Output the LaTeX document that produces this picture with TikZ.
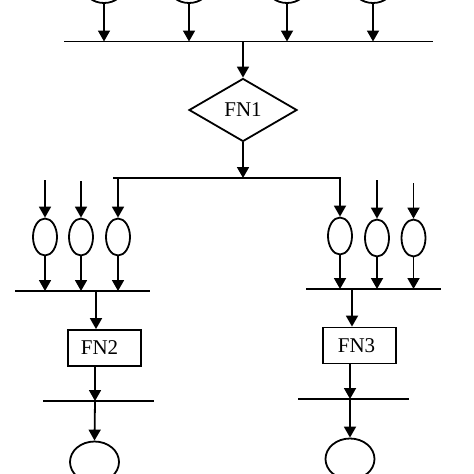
\documentclass[tikz,border=0pt]{standalone}
\usepackage{fontspec}
\setmainfont{Liberation Serif}
\usetikzlibrary{shapes.geometric,arrows.meta}
\begin{document}
\begin{tikzpicture}[x=1pt,y=-1pt,
  line width=1.8pt,
  arr/.style={-{Triangle[width=12pt,length=11pt]}},
  oval/.style={draw,ellipse,minimum width=24pt,minimum height=37pt,inner sep=0pt},
  bigoval/.style={draw,ellipse,minimum width=49pt,minimum height=41pt,inner sep=0pt},
  topoval/.style={draw,ellipse,minimum width=40pt,minimum height=32pt,inner sep=0pt},
  fnbox/.style={draw,rectangle,minimum width=73pt,minimum height=36pt,inner sep=0pt,font=\fontsize{21}{24}\selectfont},
  dia/.style={draw,diamond,minimum width=108pt,minimum height=63pt,inner sep=0pt,font=\fontsize{21}{24}\selectfont}]
\useasboundingbox (0,0) rectangle (474,474);
\clip (0,0) rectangle (474,474);
% top ovals
\node[topoval] (t1) at (104,-13) {};
\node[topoval] (t2) at (189,-13) {};
\node[topoval] (t3) at (287,-13) {};
\node[topoval] (t4) at (373,-13) {};
\coordinate (tbL) at (64,41.5);
\coordinate (tbR) at (433,41.5);
\draw (tbL) -- (tbR);
\foreach \i in {1,2,3,4} {\draw[arr] (t\i.south) -- (t\i.south |- tbL);}
% FN1
\node[dia] (fn1) at (243,110) {FN1};
\coordinate (tbc) at (243,41.5);
\draw[arr] (tbc) -- (fn1.north);
\coordinate (brL) at (113,178);
\coordinate (brR) at (341,178);
\draw (brL) -- (brR);
\draw[arr] (fn1.south) -- (fn1.south |- brL);
% left group
\node[oval] (l1) at (45,237) {};
\node[oval] (l2) at (81,237) {};
\node[oval] (l3) at (118,237) {};
\coordinate (li1) at (45,180);
\coordinate (li2) at (81,181);
\coordinate (li3) at (118,178);
\draw[arr] (li1) -- (l1.north);
\draw[arr] (li2) -- (l2.north);
\draw[arr] (li3) -- (l3.north);
\coordinate (lbL) at (15,291);
\coordinate (lbR) at (150,291);
\draw (lbL) -- (lbR);
\foreach \i in {1,2,3} {\draw[arr] (l\i.south) -- (l\i.south |- lbL);}
% right group
\node[oval] (r1) at (340,236) {};
\node[oval] (r2) at (377,238) {};
\node[oval] (r3) at (413.5,238) {};
\coordinate (ri1) at (340,178);
\coordinate (ri2) at (377,180);
\coordinate (ri3) at (413.5,183);
\draw[arr] (ri1) -- (r1.north);
\draw[arr] (ri2) -- (r2.north);
\draw[arr] (ri3) -- (r3.north);
\coordinate (rbL) at (306,289);
\coordinate (rbR) at (441,289);
\draw (rbL) -- (rbR);
\foreach \i in {1,2,3} {\draw[arr] (r\i.south) -- (r\i.south |- rbL);}
% FN2 branch
\node[fnbox] (fn2) at (104.5,348) {FN2\hspace*{10pt}};
\coordinate (lbo) at (96,291);
\draw[arr] (lbo) -- (lbo |- fn2.north);
\coordinate (lo) at (95,401);
\coordinate (loL) at (43,401);
\coordinate (loR) at (154,401);
\draw (loL) -- (loR);
\draw[arr] (lo |- fn2.south) -- (lo);
\node[bigoval] (e2) at (94.5,462) {};
\draw[arr] (lo) -- (e2.north);
% FN3 branch
\node[fnbox] (fn3) at (359.5,345.5) {FN3\hspace*{6pt}};
\coordinate (rbo) at (352,289);
\draw[arr] (rbo) -- (rbo |- fn3.north);
\coordinate (ro) at (350,399);
\coordinate (roL) at (298,399);
\coordinate (roR) at (409,399);
\draw (roL) -- (roR);
\draw[arr] (ro |- fn3.south) -- (ro);
\node[bigoval] (e3) at (350,459) {};
\draw[arr] (ro) -- (e3.north);
\end{tikzpicture}
\end{document}
